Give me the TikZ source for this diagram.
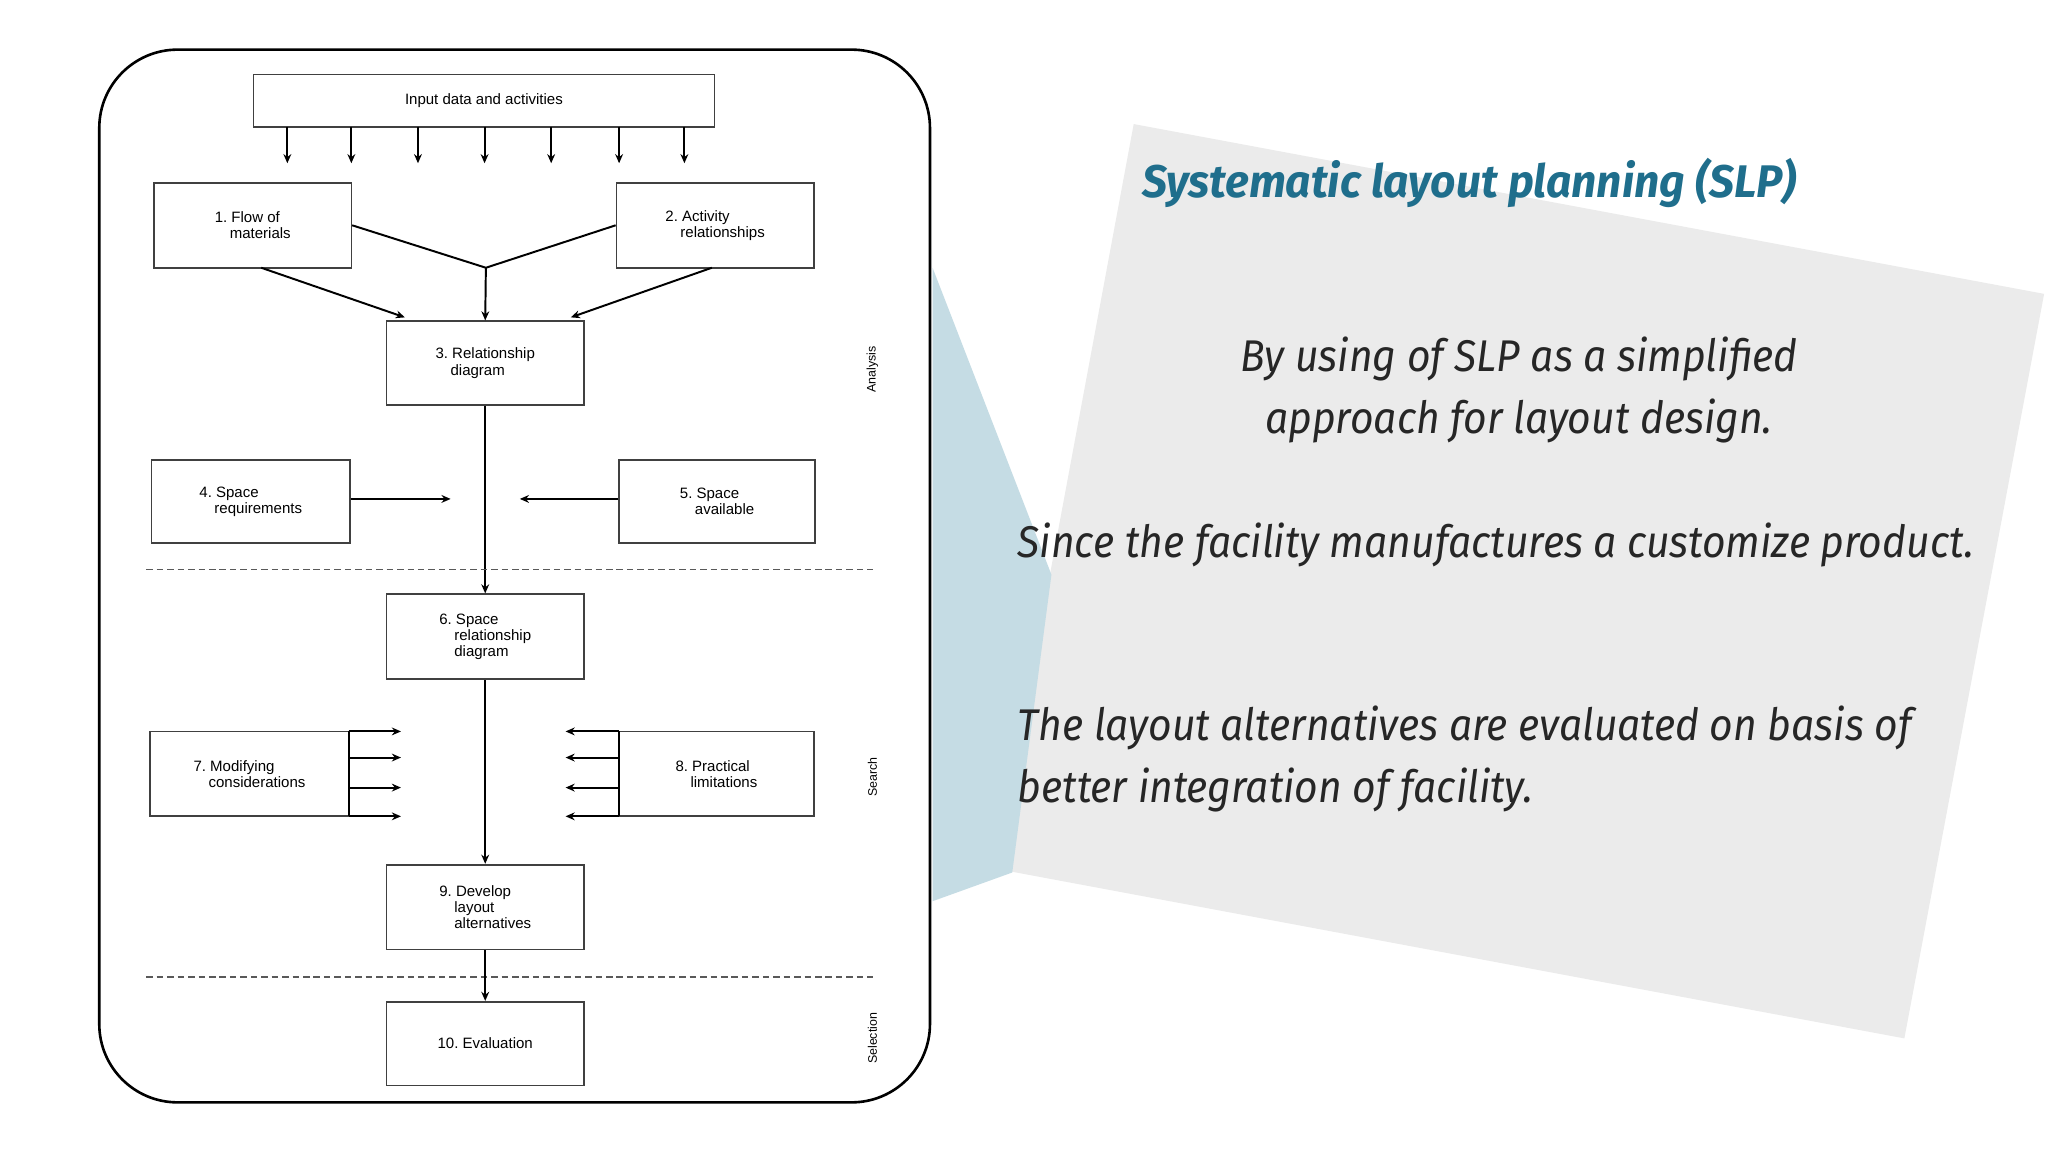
\documentclass[tikz,border=0pt]{standalone}
\usetikzlibrary{arrows.meta}
\usepackage{fontspec}
\setmainfont{Liberation Sans}
\newfontfamily\fira{Fira Sans}
\definecolor{tri}{RGB}{197,220,228}
\definecolor{teal2}{RGB}{31,110,140}
\begin{document}
\begin{tikzpicture}[x=1pt,y=-1pt,
 box/.style={draw=black!75,line width=1.3pt,minimum width=0pt,inner sep=0pt,align=left,font=\fontsize{11.5}{12.5}\selectfont},
 arr/.style={line width=1.5pt,-{Stealth[length=7pt,width=6pt]}},
 ln/.style={line width=1.5pt},
 dsh/.style={line width=1.2pt,dash pattern=on 5pt off 3pt,gray!70!black},
 side/.style={rotate=90,font=\fontsize{9.5}{10}\selectfont},
 body/.style={font=\fira\itshape\fontsize{34}{40}\selectfont,text=black!85,xscale=0.92}]
\useasboundingbox (0,0) rectangle (1568,882);
\fill[white] (0,0) rectangle (1568,882);
% background shapes
\fill[black!8] (868,95) -- (1565,225) -- (1458,795) -- (762,665) -- cycle;
\fill[tri] (714,205) -- (805,440) -- (775,668) -- (714,690) -- cycle;
\draw[line width=2pt,rounded corners=60pt,fill=white] (76,38) rectangle (712,844);
% title and text
\node[font=\fira\itshape\bfseries\fontsize{35}{40}\selectfont,text=teal2,xscale=0.97] (title) at (1125,140) {Systematic layout planning (SLP)};
\node[body] (t1) at (1163,275) {By using of SLP as a simplified};
\node[body] (t2) at (1163,322) {approach for layout design.};
\node[body,anchor=west] (t3) at (776,417) {Since the facility manufactures a customize product.};
\node[body,anchor=west] (t4) at (776,557) {The layout alternatives are evaluated on basis of};
\node[body,anchor=west] (t5) at (776,605) {better integration of facility.};
% boxes
\node[box,minimum width=353pt,minimum height=40pt,align=center] (in) at (370.5,77) {Input data and activities};
\node[box,minimum width=151pt,minimum height=65pt] (b1) at (193.5,172.5) {1.\ Flow of\\\quad materials};
\node[box,minimum width=151pt,minimum height=65pt] (b2) at (547.5,172.5) {2.\ Activity\\\quad relationships};
\node[box,minimum width=151pt,minimum height=64pt] (b3) at (371.5,278) {3.\ Relationship\\\quad diagram};
\node[box,minimum width=152pt,minimum height=64pt] (b4) at (192,384) {4.\ Space\\\quad requirements};
\node[box,minimum width=150pt,minimum height=64pt] (b5) at (549,384) {5.\ Space\\\quad available};
\node[box,minimum width=151pt,minimum height=65pt] (b6) at (371.5,487.5) {6.\ Space\\\quad relationship\\\quad diagram};
\node[box,minimum width=152pt,minimum height=65pt] (b7) at (191,592.5) {7.\ Modifying\\\quad considerations};
\node[box,minimum width=149pt,minimum height=65pt] (b8) at (548.5,592.5) {8.\ Practical\\\quad limitations};
\node[box,minimum width=151pt,minimum height=65pt] (b9) at (371.5,694.5) {9.\ Develop\\\quad layout\\\quad alternatives};
\node[box,minimum width=151pt,minimum height=64pt,align=center] (b10) at (371.5,799) {10.\ Evaluation};
% input arrows
\foreach \x in {220,269,320,371,422,474,524}{
  \coordinate (s\x) at (\x,97); \coordinate (e\x) at (\x,125);
  \draw[arr] (s\x) -- (e\x);}
% 1,2 -> 3
\coordinate (m) at (372,205);
\draw[ln] (b1.east) -- (m) -- (b2.west);
\draw[arr] (m) -- (b3.north);
\coordinate (a1) at (310,243); \coordinate (a2) at (437,243);
\draw[arr] (200,205) -- (a1);
\draw[arr] (545,205) -- (a2);
% 4,5
\coordinate (c4) at (345,382); \coordinate (c5) at (398,382);
\draw[arr] (b4.east |- c4) -- (c4);
\draw[arr] (b5.west |- c5) -- (c5);
\draw[arr] (b3.south) -- (b6.north);
\draw[dsh] (112,436) -- (668,436);
% 7,8
\draw[ln] (267,560) -- (267,625);
\draw[ln] (474,560) -- (474,625);
\foreach \y in {560,580,603,625}{
  \coordinate (p\y) at (307,\y); \coordinate (q\y) at (433,\y);
  \draw[arr] (267,\y) -- (p\y);
  \draw[arr] (474,\y) -- (q\y);}
\draw[arr] (b6.south) -- (b9.north);
\draw[dsh] (112,748) -- (668,748);
\draw[arr] (b9.south) -- (b10.north);
% side labels
\node[side] (sa) at (668,283) {Analysis};
\node[side] (ss) at (668,595) {Search};
\node[side] (sl) at (668,795) {Selection};
\end{tikzpicture}
\end{document}
